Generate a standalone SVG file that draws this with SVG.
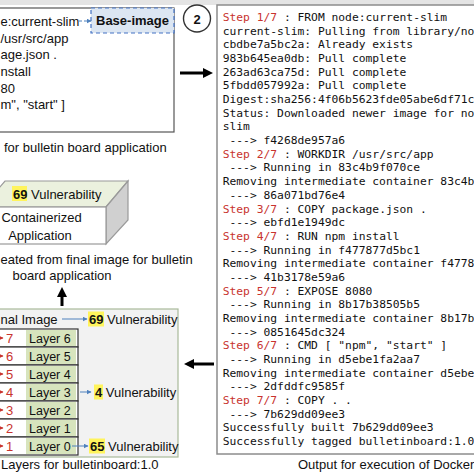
<svg xmlns="http://www.w3.org/2000/svg" width="474" height="474" viewBox="0 0 474 474">
<style>
.sans{font-family:"Liberation Sans",Arial,sans-serif;font-size:13px;fill:#111}
.mono{font-family:"DejaVu Sans Mono","Liberation Mono",monospace;font-size:11.3px;fill:#111}
.red{fill:#c8332e}
.b{font-weight:bold}
.hl{fill:#fff45c}
.lay{font-family:"Liberation Sans",Arial,sans-serif;font-size:12.5px;fill:#111}
.row{fill:#fff;stroke:#333;stroke-width:1.2}
.cell{fill:#d7e4bd}
.blk{stroke:#000;stroke-width:3;fill:none}
.blu{stroke:#4f81bd;stroke-width:1;fill:none}
</style>
<defs>
<marker id="ah" viewBox="0 0 10 10" refX="2" refY="5" markerWidth="10" markerHeight="10" markerUnits="userSpaceOnUse" orient="auto"><path d="M0,0 L10,5 L0,10 z" fill="#000"/></marker>
<marker id="bh" viewBox="0 0 10 10" refX="9" refY="5" markerWidth="5" markerHeight="5" markerUnits="userSpaceOnUse" orient="auto"><path d="M0,0 L10,5 L0,10 z" fill="#4f81bd"/></marker>
<marker id="rh" viewBox="0 0 10 10" refX="9" refY="5" markerWidth="5" markerHeight="5" markerUnits="userSpaceOnUse" orient="auto"><path d="M0,0 L10,5 L0,10 z" fill="#c8332e"/></marker>
</defs>
<rect x="0" y="0" width="474" height="474" fill="#fff"/>
<rect x="0" y="0" width="474" height="5" fill="#e4e4e4"/>

<g id="dockerfile">
<rect x="-2" y="8" width="176" height="124" fill="#fff" stroke="#555" stroke-width="1.2"/>
<text class="sans" x="0.5" y="25.5">e:current-slim</text>
<text class="sans" x="0.5" y="42.5">/usr/src/app</text>
<text class="sans" x="0.5" y="58.5">age.json .</text>
<text class="sans" x="0.5" y="75.5">nstall</text>
<text class="sans" x="0.5" y="92.5">80</text>
<text class="sans" x="0.5" y="108.5">m", "start" ]</text>
<text class="sans" x="4" y="152">for bulletin board application</text>
</g>

<g id="base-image">
<rect x="91" y="8" width="83" height="25" fill="#dce6f2" stroke="#4472c4" stroke-width="1.2" stroke-dasharray="4,3"/>
<text class="sans b" x="132.5" y="25" text-anchor="middle" font-size="12.5">Base-image</text>
</g>

<g id="step-badge">
<circle cx="197" cy="18.5" r="13.5" fill="#fff" stroke="#333" stroke-width="1.4"/>
<text class="sans" x="197" y="23.5" text-anchor="middle" font-size="14" font-weight="bold">2</text>
</g>

<g id="build-output">
<rect x="217" y="5" width="262" height="449" fill="#fff" stroke="#8c8c8c" stroke-width="1.5"/>
<g class="mono">
<text x="222.7" y="21"><tspan class="red">Step 1/7</tspan> : FROM node:current-slim</text>
<text x="222.7" y="34.68">current-slim: Pulling from library/no</text>
<text x="222.7" y="48.36">cbdbe7a5bc2a: Already exists</text>
<text x="222.7" y="62.04">983b645ea0db: Pull complete</text>
<text x="222.7" y="75.72">263ad63ca75d: Pull complete</text>
<text x="222.7" y="89.4">5fbdd057992a: Pull complete</text>
<text x="222.7" y="103.08">Digest:sha256:4f06b5623fde05abe6df71c</text>
<text x="222.7" y="116.76">Status: Downloaded newer image for no</text>
<text x="222.7" y="130.44">slim</text>
<text x="229.5" y="144.12">---&gt; f4268de957a6</text>
<text x="222.7" y="157.8"><tspan class="red">Step 2/7</tspan> : WORKDIR /usr/src/app</text>
<text x="229.5" y="171.48">---&gt; Running in 83c4b9f070ce</text>
<text x="222.7" y="185.16">Removing intermediate container 83c4b</text>
<text x="229.5" y="198.84">---&gt; 86a071bd76e4</text>
<text x="222.7" y="212.52"><tspan class="red">Step 3/7</tspan> : COPY package.json .</text>
<text x="229.5" y="226.2">---&gt; ebfd1e1949dc</text>
<text x="222.7" y="239.88"><tspan class="red">Step 4/7</tspan> : RUN npm install</text>
<text x="229.5" y="253.56">---&gt; Running in f477877d5bc1</text>
<text x="222.7" y="267.24">Removing intermediate container f4778</text>
<text x="229.5" y="280.92">---&gt; 41b3178e59a6</text>
<text x="222.7" y="294.6"><tspan class="red">Step 5/7</tspan> : EXPOSE 8080</text>
<text x="229.5" y="308.28">---&gt; Running in 8b17b38505b5</text>
<text x="222.7" y="321.96">Removing intermediate container 8b17b</text>
<text x="229.5" y="335.64">---&gt; 0851645dc324</text>
<text x="222.7" y="349.32"><tspan class="red">Step 6/7</tspan> : CMD [ "npm", "start" ]</text>
<text x="229.5" y="363">---&gt; Running in d5ebe1fa2aa7</text>
<text x="222.7" y="376.68">Removing intermediate container d5ebe</text>
<text x="229.5" y="390.36">---&gt; 2dfddfc9585f</text>
<text x="222.7" y="404.04"><tspan class="red">Step 7/7</tspan> : COPY . .</text>
<text x="229.5" y="417.72">---&gt; 7b629dd09ee3</text>
<text x="222.7" y="431.4">Successfully built 7b629dd09ee3</text>
<text x="222.7" y="445.08">Successfully tagged bulletinboard:1.0</text>
</g>
<text class="sans" x="298" y="469">Output for execution of Docker</text>
</g>

<g id="container">
<polygon points="-17,207 106,207 128,181 5,181" fill="#ebf1de" stroke="#9a9a9a" stroke-width="1.2"/>
<polygon points="106,207 128,181 128,220 106,244" fill="#d0d0d0" stroke="#9a9a9a" stroke-width="1.2"/>
<rect x="-17" y="207" width="123" height="37" fill="#fff" stroke="#9a9a9a" stroke-width="1.2"/>
<rect class="hl" x="12" y="186" width="15" height="15"/>
<text class="sans" x="13" y="198.5" font-size="13.5"><tspan class="b">69</tspan> Vulnerability</text>
<text class="sans" x="41.5" y="222" text-anchor="middle">Containerized</text>
<text class="sans" x="40" y="239.5" text-anchor="middle">Application</text>
<text class="sans" x="0.5" y="263.5">eated from final image for bulletin</text>
<text class="sans" x="62" y="280" text-anchor="middle">board application</text>
</g>

<g id="layers">
<rect x="-2" y="309" width="180" height="148" fill="#f2f2f2" stroke="#a9b99a" stroke-width="1.2"/>
<text class="sans" x="0.5" y="323.5">nal Image</text>
<rect class="hl" x="88" y="311.5" width="16" height="15"/>
<text class="sans" x="89" y="324" font-size="13.3"><tspan class="b">69</tspan> Vulnerability</text>
<g id="layer6"><rect class="row" x="-3" y="329" width="81" height="18"/><rect class="cell" x="26" y="330" width="50" height="16"/><text class="sans red" x="6" y="342.5">7</text><text class="lay" x="29" y="342.5">Layer 6</text></g>
<g id="layer5"><rect class="row" x="-3" y="347" width="81" height="18"/><rect class="cell" x="26" y="348" width="50" height="16"/><text class="sans red" x="6" y="360.5">6</text><text class="lay" x="29" y="360.5">Layer 5</text></g>
<g id="layer4"><rect class="row" x="-3" y="365" width="81" height="18"/><rect class="cell" x="26" y="366" width="50" height="16"/><text class="sans red" x="6" y="378.5">5</text><text class="lay" x="29" y="378.5">Layer 4</text></g>
<g id="layer3"><rect class="row" x="-3" y="383" width="81" height="18"/><rect class="cell" x="26" y="384" width="50" height="16"/><text class="sans red" x="6" y="396.5">4</text><text class="lay" x="29" y="396.5">Layer 3</text></g>
<g id="layer2"><rect class="row" x="-3" y="401" width="81" height="18"/><rect class="cell" x="26" y="402" width="50" height="16"/><text class="sans red" x="6" y="414.5">3</text><text class="lay" x="29" y="414.5">Layer 2</text></g>
<g id="layer1"><rect class="row" x="-3" y="419" width="81" height="18"/><rect class="cell" x="26" y="420" width="50" height="16"/><text class="sans red" x="6" y="432.5">2</text><text class="lay" x="29" y="432.5">Layer 1</text></g>
<g id="layer0"><rect class="row" x="-3" y="437" width="81" height="18"/><rect class="cell" x="26" y="438" width="50" height="16"/><text class="sans red" x="6" y="450.5">1</text><text class="lay" x="29" y="450.5">Layer 0</text></g>
<rect class="hl" x="94" y="384.5" width="9" height="15"/>
<text class="sans" x="95" y="397" font-size="13.3"><tspan class="b">4</tspan> Vulnerability</text>
<rect class="hl" x="89" y="438.5" width="16" height="15"/>
<text class="sans" x="90" y="451" font-size="13.3"><tspan class="b">65</tspan> Vulnerability</text>
<text class="sans" x="1" y="469">Layers for bulletinboard:1.0</text>
</g>

<g id="connectors">
<line class="blk" x1="180" y1="73" x2="205" y2="73" marker-end="url(#ah)"/>
<line class="blk" x1="214" y1="364" x2="192" y2="364" marker-end="url(#ah)"/>
<line class="blk" x1="62" y1="306" x2="62" y2="295" marker-end="url(#ah)"/>
<line class="blu" x1="79" y1="21" x2="91" y2="21" marker-end="url(#bh)" stroke-dasharray="3,2"/>
<line class="blu" x1="62" y1="319" x2="87" y2="319" marker-end="url(#bh)"/>
<line class="blu" x1="80" y1="392" x2="91" y2="392" marker-end="url(#bh)"/>
<line class="blu" x1="72" y1="446" x2="88" y2="446" marker-end="url(#bh)"/>
<line stroke="#c8332e" stroke-width="1" x1="-4" y1="338" x2="3" y2="338" marker-end="url(#rh)"/>
<line stroke="#c8332e" stroke-width="1" x1="-4" y1="356" x2="3" y2="356" marker-end="url(#rh)"/>
<line stroke="#c8332e" stroke-width="1" x1="-4" y1="374" x2="3" y2="374" marker-end="url(#rh)"/>
<line stroke="#c8332e" stroke-width="1" x1="-4" y1="392" x2="3" y2="392" marker-end="url(#rh)"/>
<line stroke="#c8332e" stroke-width="1" x1="-4" y1="410" x2="3" y2="410" marker-end="url(#rh)"/>
<line stroke="#c8332e" stroke-width="1" x1="-4" y1="428" x2="3" y2="428" marker-end="url(#rh)"/>
<line stroke="#c8332e" stroke-width="1" x1="-4" y1="446" x2="3" y2="446" marker-end="url(#rh)"/>
</g>
</svg>
